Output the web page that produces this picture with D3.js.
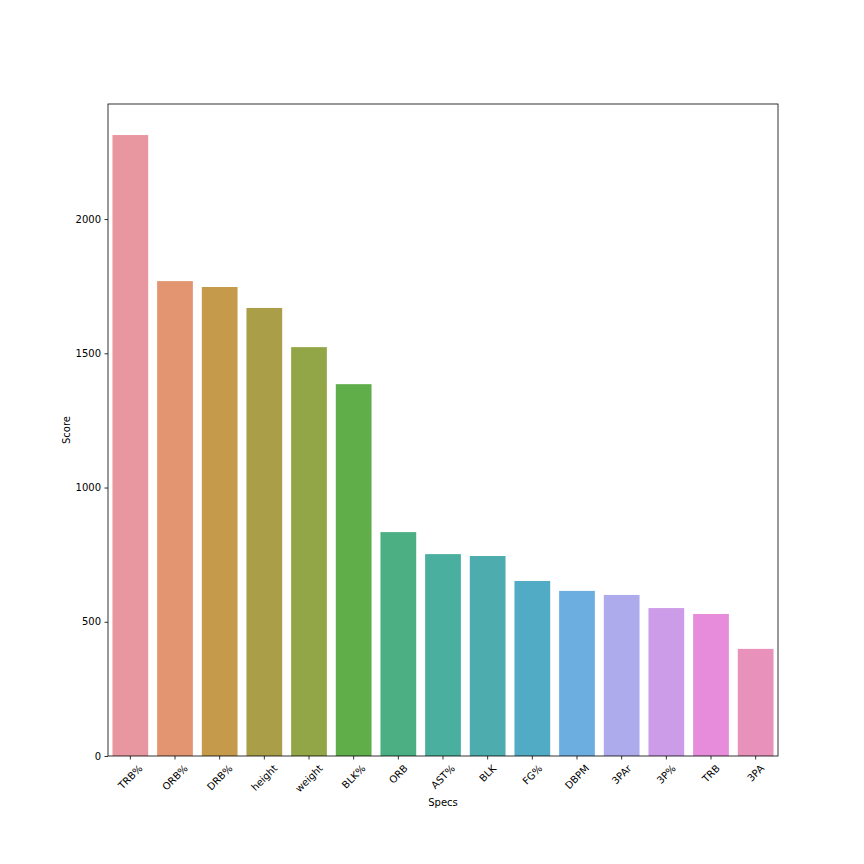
<!DOCTYPE html>
<html>
<head>
<meta charset="utf-8">
<script src="https://cdn.jsdelivr.net/npm/d3@7"></script>
<style>
  body { margin: 0; background: #fff; }
  text { font-family: "DejaVu Sans", sans-serif; }
</style>
</head>
<body>
<div id="chart"></div>
<script>
const specs = ["TRB%", "ORB%", "DRB%", "height", "weight", "BLK%", "ORB", "AST%", "BLK", "FG%", "DBPM", "3PAr", "3P%", "TRB", "3PA"];
const scores = [2313, 1769, 1747, 1669, 1523, 1385, 834, 752, 745, 652, 615, 600, 551, 529, 399];
const barColors = ["#e8969f", "#e39572", "#c69a4b", "#aa9e48", "#93a647", "#5fae49", "#4baf83", "#4baf9f", "#4cacae", "#51abc4", "#6daee1", "#adabeb", "#cd9ce8", "#e68cdb", "#e891bb"];
const yTicks = [0, 500, 1000, 1500, 2000];

const width = 864;
const height = 864;
const margin = { top: 104, right: 86, bottom: 108, left: 108 };
const innerW = width - margin.left - margin.right;
const innerH = height - margin.top - margin.bottom;

const svg = d3.select("#chart")
    .append("svg")
    .attr("width", width)
    .attr("height", height);

const g = svg.append("g")
    .attr("transform", `translate(${margin.left},${margin.top})`);

const xScale = d3.scaleBand()
    .domain(specs)
    .range([0, innerW])
    .paddingInner(0.2)
    .paddingOuter(0.1);

const yScale = d3.scaleLinear()
    .domain([0, d3.max(scores) * 1.05])
    .range([innerH, 0]);

g.selectAll(".bar")
    .data(specs)
    .enter().append("rect")
    .attr("class", "bar")
    .attr("x", d => xScale(d))
    .attr("y", (d, i) => yScale(scores[i]))
    .attr("width", xScale.bandwidth())
    .attr("height", (d, i) => innerH - yScale(scores[i]))
    .attr("fill", (d, i) => barColors[i]);

// y axis
const yAxis = g.append("g")
    .call(d3.axisLeft(yScale).tickValues(yTicks).tickFormat(d3.format("d")).tickSize(3.5).tickPadding(3.5));
yAxis.select(".domain").remove();
yAxis.selectAll("line").attr("stroke", "#000").attr("stroke-width", 0.8);
yAxis.selectAll("text").attr("font-size", 10).attr("fill", "#000")
    .style("font-family", "DejaVu Sans, sans-serif");

// x axis, ticks only
const xAxis = g.append("g")
    .attr("transform", `translate(0,${innerH})`)
    .call(d3.axisBottom(xScale).tickSize(3.5).tickFormat(""));
xAxis.select(".domain").remove();
xAxis.selectAll("line").attr("stroke", "#000").attr("stroke-width", 0.8);

// rotated tick labels, centred under each tick
const labels = g.append("g").attr("class", "xlabels");
specs.forEach(s => {
    const t = labels.append("text")
        .attr("font-size", 10)
        .attr("fill", "#000")
        .attr("text-anchor", "middle")
        .attr("dominant-baseline", "central")
        .text(s);
    const w = t.node().getComputedTextLength();
    const h = 10;
    const boxH = (w + h) * Math.SQRT1_2;
    const cx = xScale(s) + xScale.bandwidth() / 2;
    const cy = innerH + 7 + boxH / 2;
    t.attr("transform", `translate(${cx},${cy}) rotate(-45)`);
});

// frame
g.append("rect")
    .attr("width", innerW)
    .attr("height", innerH)
    .attr("fill", "none")
    .attr("stroke", "#000")
    .attr("stroke-width", 0.8);

g.append("text")
    .attr("x", innerW / 2)
    .attr("y", innerH + 50)
    .attr("text-anchor", "middle")
    .attr("font-size", 10)
    .text("Specs");

g.append("text")
    .attr("transform", `translate(-38,${innerH / 2}) rotate(-90)`)
    .attr("text-anchor", "middle")
    .attr("font-size", 10)
    .text("Score");
</script>
</body>
</html>
